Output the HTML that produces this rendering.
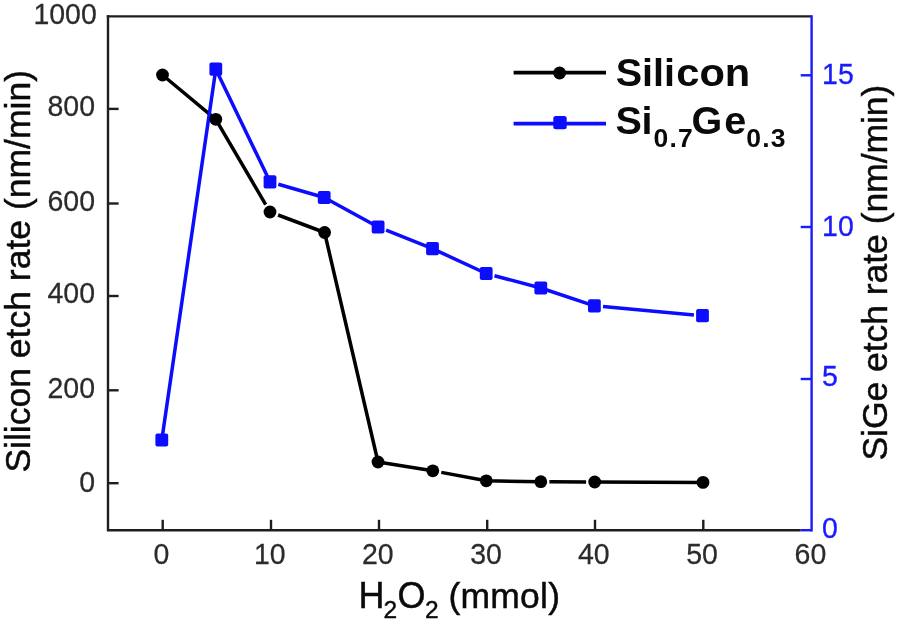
<!DOCTYPE html>
<html lang="en">
<head>
<meta charset="utf-8">
<title>Etch rate vs H2O2</title>
<style>
html,body{margin:0;padding:0;background:#fff;}
body{width:900px;height:621px;overflow:hidden;}
svg{display:block;}
svg text{font-family:"Liberation Sans",Arial,Helvetica,sans-serif;}
.tl{font-size:28.5px;fill:#2b2b2b;stroke:#2b2b2b;stroke-width:0.25px;}
.tb{font-size:28.5px;fill:#1a1aff;stroke:#1a1aff;stroke-width:0.3px;}
.ti{font-size:35.5px;fill:#0a0a0a;stroke:#0a0a0a;stroke-width:0.45px;}
.lg{font-size:39.5px;font-weight:bold;fill:#0a0a0a;}
</style>
</head>
<body>
<svg width="900" height="621" viewBox="0 0 900 621">
<rect x="0" y="0" width="900" height="621" fill="#fff"/>
<g stroke="#1e1e1e" stroke-width="2.4" fill="none" stroke-linecap="square">
<path d="M108.0 16.4 H810.6"/>
<path d="M108.0 15.2 V530.2 H800.7" stroke-linecap="butt"/>
<path d="M108.0 108.9 H118.6" stroke-linecap="butt"/>
<path d="M108.0 203.5 H118.6" stroke-linecap="butt"/>
<path d="M108.0 296.0 H118.6" stroke-linecap="butt"/>
<path d="M108.0 390.3 H118.6" stroke-linecap="butt"/>
<path d="M108.0 483.2 H118.6" stroke-linecap="butt"/>
<path d="M162.7 530.2 V519.8" stroke-linecap="butt"/>
<path d="M271.0 530.2 V519.8" stroke-linecap="butt"/>
<path d="M379.0 530.2 V519.8" stroke-linecap="butt"/>
<path d="M487.2 530.2 V519.8" stroke-linecap="butt"/>
<path d="M595.0 530.2 V519.8" stroke-linecap="butt"/>
<path d="M703.3 530.2 V519.8" stroke-linecap="butt"/>
</g>
<g stroke="#1a1aff" stroke-width="2.4" fill="none" stroke-linecap="square">
<path d="M811.6 16.4 V530.2"/>
<path d="M811.6 75.3 H800.7" stroke-linecap="butt"/>
<path d="M811.6 227.0 H800.7" stroke-linecap="butt"/>
<path d="M811.6 379.0 H800.7" stroke-linecap="butt"/>
<path d="M811.6 530.2 H800.7" stroke-linecap="butt"/>
</g>
<text class="tl" transform="translate(96.8 23.6) scale(1 1.05)" text-anchor="end">1000</text>
<text class="tl" transform="translate(95.0 116.2) scale(1 1.05)" text-anchor="end">800</text>
<text class="tl" transform="translate(95.0 210.7) scale(1 1.05)" text-anchor="end">600</text>
<text class="tl" transform="translate(95.0 303.2) scale(1 1.05)" text-anchor="end">400</text>
<text class="tl" transform="translate(95.0 397.8) scale(1 1.05)" text-anchor="end">200</text>
<text class="tl" transform="translate(95.0 492.2) scale(1 1.05)" text-anchor="end">0</text>
<text class="tl" transform="translate(161.5 563.6) scale(1 1.05)" text-anchor="middle">0</text>
<text class="tl" transform="translate(269.8 563.6) scale(1 1.05)" text-anchor="middle">10</text>
<text class="tl" transform="translate(377.8 563.6) scale(1 1.05)" text-anchor="middle">20</text>
<text class="tl" transform="translate(486.0 563.6) scale(1 1.05)" text-anchor="middle">30</text>
<text class="tl" transform="translate(593.8 563.6) scale(1 1.05)" text-anchor="middle">40</text>
<text class="tl" transform="translate(702.1 563.6) scale(1 1.05)" text-anchor="middle">50</text>
<text class="tl" transform="translate(810.4 563.6) scale(1 1.05)" text-anchor="middle">60</text>
<text class="tb" transform="translate(822.1 84.0) scale(1 1.06)">15</text>
<text class="tb" transform="translate(822.1 236.0) scale(1 1.06)">10</text>
<text class="tb" transform="translate(822.1 386.2) scale(1 1.06)">5</text>
<text class="tb" transform="translate(822.1 537.6) scale(1 1.06)">0</text>
<path d="M162.5 75.0 L215.8 119.3 M215.8 119.3 L265.7 204.6 M278.1 215.0 L324.6 232.5 M324.6 232.5 L378.0 462.0 M378.0 462.0 L432.8 470.8 M441.3 472.4 L486.3 480.8 M486.3 480.8 L540.8 481.7 M549.4 481.7 L586.1 482.0 M594.7 482.0 L703.0 482.4" fill="none" stroke="#000" stroke-width="3.5" stroke-linecap="butt"/>
<path d="M161.8 440.0 L215.8 69.2 M215.8 69.2 L270.0 181.8 M278.3 184.2 L324.2 197.5 M324.2 197.5 L378.1 227.0 M386.1 230.2 L432.5 248.7 M432.5 248.7 L486.2 273.5 M494.5 275.7 L540.8 288.0 M540.8 288.0 L594.4 305.8 M603.0 306.6 L693.9 314.9" fill="none" stroke="#0c0cff" stroke-width="3.5" stroke-linecap="butt"/>
<g fill="#000">
<circle cx="162.5" cy="75.0" r="6.4"/>
<circle cx="215.8" cy="119.3" r="6.4"/>
<circle cx="270.0" cy="212.0" r="6.4"/>
<circle cx="324.6" cy="232.5" r="6.4"/>
<circle cx="378.0" cy="462.0" r="6.4"/>
<circle cx="432.8" cy="470.8" r="6.4"/>
<circle cx="486.3" cy="480.8" r="6.4"/>
<circle cx="540.8" cy="481.7" r="6.4"/>
<circle cx="594.7" cy="482.0" r="6.4"/>
<circle cx="703.0" cy="482.4" r="6.4"/>
</g>
<g fill="#0c0cff">
<rect x="155.4" y="433.4" width="12.8" height="13.2" rx="2"/>
<rect x="209.4" y="62.6" width="12.8" height="13.2" rx="2"/>
<rect x="263.6" y="175.2" width="12.8" height="13.2" rx="2"/>
<rect x="317.8" y="190.9" width="12.8" height="13.2" rx="2"/>
<rect x="371.7" y="220.4" width="12.8" height="13.2" rx="2"/>
<rect x="426.1" y="242.1" width="12.8" height="13.2" rx="2"/>
<rect x="479.8" y="266.9" width="12.8" height="13.2" rx="2"/>
<rect x="534.4" y="281.4" width="12.8" height="13.2" rx="2"/>
<rect x="588.0" y="299.2" width="12.8" height="13.2" rx="2"/>
<rect x="696.1" y="309.1" width="12.8" height="13.2" rx="2"/>
</g>
<path d="M513.6 72.6 H606" stroke="#000" stroke-width="3.8"/>
<circle cx="559.6" cy="73" r="6.5" fill="#000"/>
<path d="M513.6 123.7 H606" stroke="#0c0cff" stroke-width="3.8"/>
<rect x="553.3" y="115.9" width="13.4" height="13.4" rx="2.5" fill="#0c0cff"/>
<text class="lg" x="615.7" y="85.5"><tspan>Sili</tspan><tspan x="676.3" textLength="74.0" lengthAdjust="spacingAndGlyphs">con</tspan></text>
<text class="lg" x="615.6" y="134.4"><tspan textLength="37" lengthAdjust="spacing">Si</tspan></text>
<text class="lg" x="653.4" y="146.6" style="font-size:26.5px" textLength="39.4" lengthAdjust="spacing">0.7</text>
<text class="lg" x="691.6" y="134.4" textLength="54.6" lengthAdjust="spacing">Ge</text>
<text class="lg" x="746.2" y="146.6" style="font-size:26.5px" textLength="39.4" lengthAdjust="spacing">0.3</text>
<text class="ti" transform="translate(30.2 472.6) rotate(-90)" textLength="402.6" lengthAdjust="spacing">Silicon etch rate (nm/min)</text>
<text class="ti" transform="translate(887 460.6) rotate(-90)" textLength="376" lengthAdjust="spacing">SiGe etch rate (nm/min)</text>
<text class="ti" x="358.4" y="607.8" style="font-size:36px">H</text>
<text class="ti" x="383.4" y="618" style="font-size:24.5px">2</text>
<text class="ti" x="397.4" y="607.8" style="font-size:36px">O</text>
<text class="ti" x="425" y="618" style="font-size:24.5px">2</text>
<text class="ti" x="448.4" y="608.1" textLength="111.6" lengthAdjust="spacing">(mmol)</text>
</svg>
</body>
</html>
